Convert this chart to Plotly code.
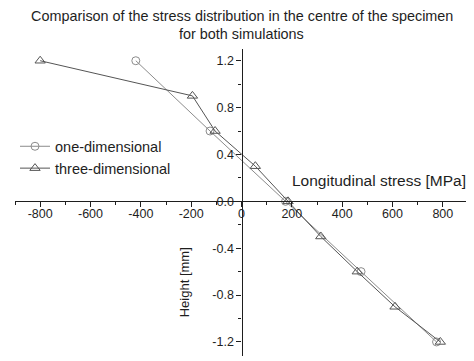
import plotly.graph_objects as go

one_stress = [-420, -125, 175, 475, 775]
one_height = [1.2, 0.6, 0.0, -0.6, -1.2]
three_stress = [-800, -195, -105, 55, 185, 315, 460, 610, 790]
three_height = [1.2, 0.9, 0.6, 0.3, 0.0, -0.3, -0.6, -0.9, -1.2]
x_ticks = [-800, -600, -400, -200, 0, 200, 400, 600, 800]
y_ticks = [-1.2, -0.8, -0.4, 0.0, 0.4, 0.8, 1.2]

XR = [-900, 900]
YR = [-1.32, 1.30]
FONT = "Arial, Liberation Sans, sans-serif"
INK = "#1e1e1e"

fig = go.Figure()
fig.add_trace(go.Scatter(
    x=one_stress, y=one_height, mode="lines+markers", name="one-dimensional",
    line=dict(color="#8c8c8c", width=1),
    marker=dict(symbol="circle-open", size=8, color="#8c8c8c", line=dict(width=1)),
))
fig.add_trace(go.Scatter(
    x=three_stress, y=three_height, mode="lines+markers", name="three-dimensional",
    line=dict(color="#555555", width=1),
    marker=dict(symbol="triangle-up-open", size=9, color="#555555", line=dict(width=1)),
))

xpos = (0 - YR[0]) / (YR[1] - YR[0])
ypos = (0 - XR[0]) / (XR[1] - XR[0])

fig.update_layout(
    width=474, height=361,
    margin=dict(l=7, r=14, t=41, b=13),
    paper_bgcolor="white", plot_bgcolor="white",
    font=dict(family=FONT, color=INK),
    xaxis=dict(
        range=XR, anchor="free", position=xpos,
        tickmode="array", tickvals=x_ticks, ticktext=[str(v) for v in x_ticks],
        ticks="outside", ticklen=5, tickwidth=1, tickcolor=INK,
        minor=dict(ticks="outside", ticklen=3, dtick=100, tick0=-900, tickcolor=INK),
        showline=True, linecolor=INK, linewidth=1.2,
        showgrid=False, zeroline=False, ticklabelstandoff=-4,
        tickfont=dict(size=12.5, family=FONT, color=INK),
    ),
    yaxis=dict(
        range=YR, anchor="free", position=ypos,
        tickmode="array", tickvals=y_ticks, ticktext=[f"{v:.1f}" for v in y_ticks],
        ticks="outside", ticklen=5, tickwidth=1, tickcolor=INK,
        minor=dict(ticks="outside", ticklen=3, dtick=0.2, tick0=0, tickcolor=INK),
        showline=True, linecolor=INK, linewidth=1.2,
        showgrid=False, zeroline=False,
        tickfont=dict(size=12.5, family=FONT, color=INK),
    ),
    legend=dict(
        x=0.0, y=0.735, xanchor="left", yanchor="top",
        bgcolor="rgba(0,0,0,0)", font=dict(size=14.5, family=FONT, color=INK),
        tracegroupgap=0, itemwidth=30,
    ),
    showlegend=True,
    annotations=[
        dict(text="Comparison of the stress distribution in the centre of the specimen",
             xref="paper", yref="paper", x=0.5, y=1 + 33 / 307, xanchor="center", yanchor="middle",
             showarrow=False, font=dict(size=14.4, family=FONT, color=INK)),
        dict(text="for both simulations",
             xref="paper", yref="paper", x=0.5, y=1 + 15 / 307, xanchor="center", yanchor="middle",
             showarrow=False, font=dict(size=14.4, family=FONT, color=INK)),
        dict(text="Longitudinal stress [MPa]", xref="paper", yref="y",
             x=1.0, y=0.0, xanchor="right", yanchor="bottom", yshift=10,
             showarrow=False, font=dict(size=15.5, family=FONT, color=INK)),
        dict(text="Height [mm]", xref="x", yref="y",
             x=-228, y=-0.69, xanchor="center", yanchor="middle",
             textangle=-90, showarrow=False,
             font=dict(size=13, family=FONT, color=INK)),
    ],
)

fig.write_html("out.html")
